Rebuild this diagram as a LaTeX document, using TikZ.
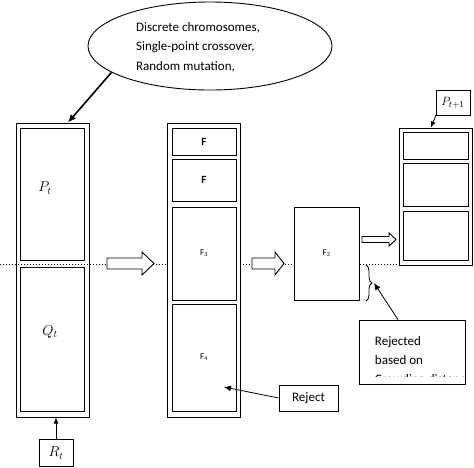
\documentclass[tikz,border=0pt]{standalone}
\usepackage{fontspec}
\setmainfont{Carlito}
\usetikzlibrary{shapes.geometric,decorations.pathreplacing,arrows.meta}

\begin{document}
\begin{tikzpicture}[x=1pt,y=-1pt,
    outbox/.style={draw,line width=1pt,inner sep=0pt,fill=white,minimum width=73},
    inbox/.style={draw,line width=1pt,inner sep=0pt,minimum width=64},
    note/.style={draw,line width=0.8pt,inner sep=0pt,font=\fontsize{13}{16}\selectfont},
    blockarrow/.style={draw,line width=0.9pt,fill=white},
    lbl/.style={font=\fontsize{14}{16}\selectfont},
    flbl/.style={font=\bfseries\fontsize{11}{12}\selectfont},
    fsub/.style={font=\fontsize{9}{10}\selectfont}]
    \useasboundingbox (0,0) rectangle (474,467);
    \draw[dotted,line width=1pt] (0,264) -- (474,264);

    \node[draw,ellipse,line width=0.9pt,minimum width=244,minimum height=88] (ga) at (210,46) {};
    \node[align=left,font=\fontsize{13}{19.5}\selectfont] (gatxt) at (198,47) {Discrete chromosomes,\\Single-point crossover,\\Random mutation,};

    \node[outbox,fill=none,minimum height=294] (PQ) at (52.5,270) {};
    \node[inbox,minimum height=132] (Pt) at (52.5,194) {};
    \node[inbox,minimum height=144] (Qt) at (52.5,339) {};
    \node[lbl] (lPt) at (45,188) {$P_t$};
    \node[lbl] (lQt) at (50,332) {$Q_t$};
    \node[note,lbl,minimum width=34,minimum height=27] (Rt) at (56,453) {$R_t$};

    \node[outbox,minimum height=294] (col2) at (203.5,270) {};
    \node[inbox,flbl,minimum height=27] (F1) at (204,141.5) {F};
    \node[inbox,flbl,minimum height=42] (F2) at (204,180) {F};
    \node[inbox,fsub,minimum height=93] (F3) at (204,253.5) {F\textsubscript{3}};
    \node[inbox,fsub,minimum height=107] (F4) at (204,357.5) {F\textsubscript{4}};

    \node[outbox,fsub,minimum width=65,minimum height=93] (Fs) at (326.5,253.5) {F\textsubscript{3}};

    \node[outbox,minimum height=137] (col3) at (435.5,196.5) {};
    \node[inbox,minimum width=65,minimum height=27] (N1) at (435.5,145.5) {};
    \node[inbox,minimum width=65,minimum height=43] (N2) at (435.5,184.5) {};
    \node[inbox,minimum width=65,minimum height=49] (N3) at (435.5,235.5) {};
    \node[note,font=\fontsize{13}{14}\selectfont,minimum width=34,minimum height=25] (Pn) at (453,102.5) {$P_{t+1}$};

    \node[note,minimum width=59,minimum height=26] (rej) at (308.5,398) {Reject};
    \node[note,minimum width=106,minimum height=64,
        path picture={\clip (path picture bounding box.north west) rectangle ([yshift=8pt]path picture bounding box.south east);
            \node[align=left,anchor=north west,inner sep=0pt,font=\fontsize{13}{19}\selectfont]
            at ([xshift=11pt,yshift=-9pt]path picture bounding box.north west) {Rejected\\based on\\Crowding distance};}]
        (rejcd) at (412,352) {};

    \coordinate (rjc) at (224,387);
    \coordinate (br) at (374,283);

    \foreach \xa/\xh/\xb/\yc/\bw/\hw in {107/142/154/263.5/5.5/11.5, 252/275/284/263.5/5.5/11.5, 362/389/396/239.5/3/6.5}
        \draw[blockarrow] (\xa,\yc-\bw) -- (\xh,\yc-\bw) -- (\xh,\yc-\hw) -- (\xb,\yc) -- (\xh,\yc+\hw) -- (\xh,\yc+\bw) -- (\xa,\yc+\bw) -- cycle;

    \draw[decorate,decoration={brace,amplitude=6pt},line width=0.8pt] (366,265) -- (366,301);

    \draw[-{Latex[length=8pt,width=7pt]},line width=1.6pt] (ga.195) -- ([xshift=15.5pt]PQ.north);
    \draw[-{Latex[length=6pt,width=5pt]},line width=0.8pt] (Rt.north) -- (Rt.north |- PQ.south);
    \draw[-{Latex[length=7pt,width=6pt]},line width=0.8pt] (rej.west) -- (rjc);
    \draw[-{Latex[length=7pt,width=6pt]},line width=0.8pt] ([xshift=-14pt]rejcd.north) -- (br);
    \draw[-{Latex[length=6pt,width=5pt]},line width=0.8pt] ([xshift=1pt,yshift=2pt]Pn.south west) -- ([xshift=-4.5pt]col3.north);
\end{tikzpicture}
\end{document}
